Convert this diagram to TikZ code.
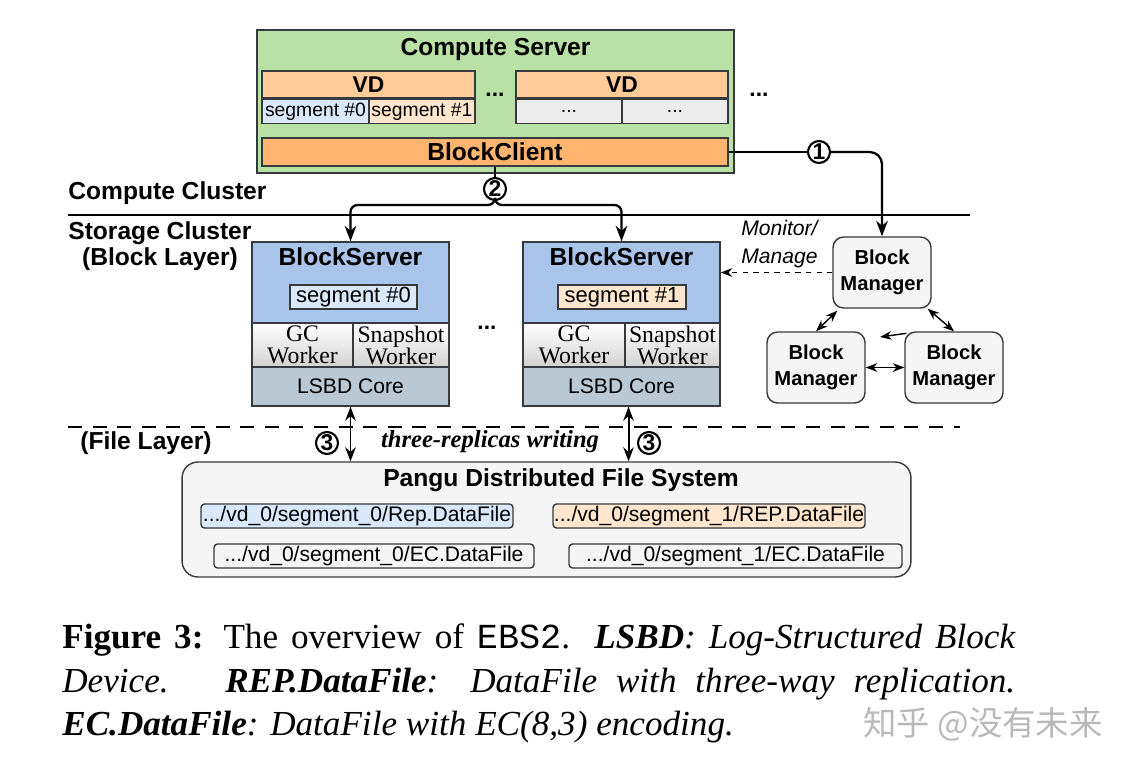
\documentclass[tikz,border=0pt]{standalone}
\usepackage{fontspec}
\setmainfont{Liberation Serif}
\setsansfont{Liberation Sans}
\setmonofont{Liberation Mono}
\newfontfamily\cjk{Noto Sans CJK SC}
\usetikzlibrary{arrows.meta,positioning,calc}
\definecolor{srvgreen}{RGB}{185,224,165}
\definecolor{vdorange}{RGB}{255,204,153}
\definecolor{segblue}{RGB}{218,232,252}
\definecolor{segpeach}{RGB}{255,230,204}
\definecolor{cellgray}{RGB}{236,236,236}
\definecolor{clientorange}{RGB}{255,181,112}
\definecolor{bsblue}{RGB}{169,196,235}
\definecolor{coreslate}{RGB}{186,200,211}
\definecolor{mgrgray}{RGB}{245,245,245}
\definecolor{edgegray}{RGB}{54,57,61}
\tikzset{
  blk/.style={draw=edgegray,rectangle,thick,inner sep=0pt,align=center},
  srvblk/.style={blk,fill=srvgreen},
  vdblk/.style={blk,fill=vdorange,font=\fontsize{13}{15}\selectfont\sffamily\bfseries},
  bluecell/.style={blk,fill=segblue,font=\fontsize{11}{13}\selectfont\sffamily},
  peachcell/.style={blk,fill=segpeach,font=\fontsize{11}{13}\selectfont\sffamily},
  graycell/.style={blk,fill=cellgray,font=\fontsize{11}{13}\selectfont\sffamily},
  clientblk/.style={blk,fill=clientorange,font=\fontsize{14}{16}\selectfont\sffamily\bfseries},
  bsblk/.style={blk,fill=bsblue},
  bsseg/.style={blk,font=\fontsize{12.5}{14}\selectfont\sffamily},
  wrkcell/.style={blk,top color=white,bottom color=gray!35,font=\fontsize{13.5}{12.5}\selectfont\rmfamily},
  coreblk/.style={blk,fill=coreslate,font=\fontsize{12}{14}\selectfont\sffamily},
  mgrblk/.style={blk,fill=mgrgray,rounded corners=6pt,minimum width=1.96cm,minimum height=1.42cm,font=\fontsize{11.5}{15}\selectfont\sffamily\bfseries},
  pangublk/.style={blk,fill=mgrgray,rounded corners=9pt},
  fileblk/.style={blk,rounded corners=2pt,minimum height=0.48cm,font=\fontsize{12}{14}\selectfont\sffamily},
  ttl/.style={font=\fontsize{14}{16}\selectfont\sffamily\bfseries,inner sep=0pt},
  dots/.style={font=\fontsize{13}{15}\selectfont\sffamily\bfseries,inner sep=0pt},
  numc/.style={circle,draw,line width=1.2pt,fill=white,minimum size=0.44cm,inner sep=0pt,font=\fontsize{13}{13}\selectfont\sffamily\bfseries},
  arr/.style={-Stealth,line width=1.3pt},
  wire/.style={line width=1.3pt},
  biarr/.style={Stealth-Stealth,line width=1.1pt},
  marr/.style={Stealth-Stealth,thick},
  darr/.style={-Stealth,thick,dashed}
}
\begin{document}
\begin{tikzpicture}[x=0.02cm,y=-0.02cm]
  \useasboundingbox (0,0) rectangle (1132,772);

  % compute side
  \node[srvblk,minimum width=9.54cm,minimum height=2.86cm] (srv) at (495.5,101.5) {};
  \node[ttl] (srvttl) at (495.5,49) {Compute Server};
  \node[vdblk,minimum width=4.26cm,minimum height=0.54cm] (vd1) at (368.5,84.5) {VD};
  \node[bluecell,minimum width=2.14cm,minimum height=0.48cm,anchor=north west] (vd1a) at (vd1.south west) {segment \#0};
  \node[peachcell,minimum width=2.12cm,minimum height=0.48cm,anchor=north east] (vd1b) at (vd1.south east) {segment \#1};
  \node[vdblk,minimum width=4.24cm,minimum height=0.54cm] (vd2) at (622,84.5) {VD};
  \node[graycell,minimum width=2.12cm,minimum height=0.48cm,anchor=north west] (vd2a) at (vd2.south west) {...};
  \node[graycell,minimum width=2.12cm,minimum height=0.48cm,anchor=north east] (vd2b) at (vd2.south east) {...};
  \node[dots] (vddots) at (495,95) {...};
  \node[dots] (srvdots) at (759,95) {...};
  \node[clientblk,minimum width=9.32cm,minimum height=0.56cm] (client) at (495,152) {BlockClient};

  \node[ttl,anchor=west] (cclu) at (68,193) {Compute Cluster};
  \node[ttl,anchor=west] (sclu) at (68,233) {Storage Cluster};
  \node[ttl] (blay) at (160,259) {(Block Layer)};
  \node[ttl,anchor=west] (flay) at (80,443) {(File Layer)};
  \coordinate (sepL) at (68,215);
  \coordinate (sepR) at (970,215);
  \draw[thick] (sepL) -- (sepR);
  \coordinate (dashL) at (68,427);
  \coordinate (dashR) at (960,427);
  \draw[thick,dash pattern=on 8pt off 6pt] (dashL) -- (dashR);

  % block servers
  \node[bsblk,minimum width=3.94cm,minimum height=1.62cm] (bs1) at (350.5,282.5) {};
  \node[ttl] (bs1ttl) at (350.5,257) {BlockServer};
  \node[bsseg,fill=segblue,minimum width=2.54cm,minimum height=0.48cm] (bs1seg) at (353.5,297) {segment \#0};
  \node[wrkcell,minimum width=2.02cm,minimum height=0.88cm] (gc1) at (302.5,345) {GC\\Worker};
  \node[wrkcell,minimum width=1.92cm,minimum height=0.88cm] (snap1) at (401,345) {Snapshot\\Worker};
  \node[coreblk,minimum width=3.94cm,minimum height=0.78cm] (core1) at (350.5,386.5) {LSBD Core};

  \node[bsblk,minimum width=3.94cm,minimum height=1.62cm] (bs2) at (621.5,282.5) {};
  \node[ttl] (bs2ttl) at (621.5,257) {BlockServer};
  \node[bsseg,fill=segpeach,minimum width=2.56cm,minimum height=0.48cm] (bs2seg) at (622,297) {segment \#1};
  \node[wrkcell,minimum width=2.04cm,minimum height=0.88cm] (gc2) at (574,345) {GC\\Worker};
  \node[wrkcell,minimum width=1.9cm,minimum height=0.88cm] (snap2) at (672.5,345) {Snapshot\\Worker};
  \node[coreblk,minimum width=3.94cm,minimum height=0.78cm] (core2) at (621.5,386.5) {LSBD Core};
  \node[dots] (bsdots) at (487,328) {...};

  % managers
  \node[mgrblk] (mgrA) at (882,272.5) {Block\\Manager};
  \node[mgrblk] (mgrB) at (816,367.5) {Block\\Manager};
  \node[mgrblk] (mgrC) at (954,367.5) {Block\\Manager};
  \node[font=\fontsize{12}{16}\selectfont\sffamily\itshape,align=left,inner sep=0pt,anchor=west] (mon) at (741,244) {Monitor/\\Manage};

  % file layer
  \node[pangublk,minimum width=14.58cm,minimum height=2.3cm] (pangu) at (546.5,519.5) {};
  \node[ttl] (pangttl) at (561,480) {Pangu Distributed File System};
  \node[fileblk,fill=segblue,minimum width=6.24cm] (rep0) at (357,516) {.../vd\_0/segment\_0/Rep.DataFile};
  \node[fileblk,fill=segpeach,minimum width=6.24cm] (rep1) at (709,516) {.../vd\_0/segment\_1/REP.DataFile};
  \node[fileblk,fill=mgrgray,minimum width=6.4cm] (ec0) at (374,556) {.../vd\_0/segment\_0/EC.DataFile};
  \node[fileblk,fill=mgrgray,minimum width=6.66cm] (ec1) at (735.5,556) {.../vd\_0/segment\_1/EC.DataFile};
  \node[font=\fontsize{14}{15}\selectfont\rmfamily\bfseries\itshape,inner sep=0pt] (repw) at (490,442) {three-replicas writing};

  % numbered steps
  \node[numc] (n1) at (819,152) {1};
  \node[numc] (n2) at (495,189) {2};
  \node[numc] (n3a) at (327,443) {3};
  \node[numc] (n3b) at (649,443) {3};
  \coordinate (split) at (495,205);

  \draw[wire] (client.east) -- (n1.west);
  \draw[arr,rounded corners=7pt] (n1.east) -| (mgrA.north);
  \draw[wire] (client.south) -- (n2.north);
  \draw[arr,rounded corners=4pt] (n2.south) |- (bs1.north |- split) -- (bs1.north);
  \draw[arr,rounded corners=4pt] (n2.south) |- (bs2.north |- split) -- (bs2.north);
  \draw[darr] (mgrA.west) -- (mgrA.west -| bs2.east);
  \draw[marr] ([shift={(5,2)}]mgrA.south west) -- (mgrB.north);
  \draw[marr] ([shift={(-4,0)}]mgrA.south east) -- (mgrC.north);
  \draw[marr] (mgrB.east) -- (mgrC.west);
  \coordinate (strayend) at (880,337);
  \draw[-Stealth,thick] ([shift={(2,2)}]mgrC.north west) -- (strayend);
  \draw[biarr] (core1.south) -- (core1.south |- pangu.north);
  \draw[biarr] ([xshift=4]core2.south) -- ([xshift=4]core2.south |- pangu.north);

  % caption
  \node[anchor=north west,text width=19.06cm,align=justify,inner sep=0pt,font=\fontsize{20}{25}\selectfont\rmfamily] (cap) at (62,623)
    {\textbf{Figure 3:} The overview of \texttt{EBS2}. \textbf{\textit{LSBD}}\textit{: Log-Structured Block\linebreak Device.\ \ \ \textbf{REP.DataFile}: DataFile with three-way replication.\linebreak \textbf{EC.DataFile}: DataFile with EC(8,3) encoding.}};
  \node[font=\cjk\fontsize{19}{19}\selectfont,text=gray!55,inner sep=0pt] (wm) at (983,724) {知乎 @没有未来};
\end{tikzpicture}
\end{document}
